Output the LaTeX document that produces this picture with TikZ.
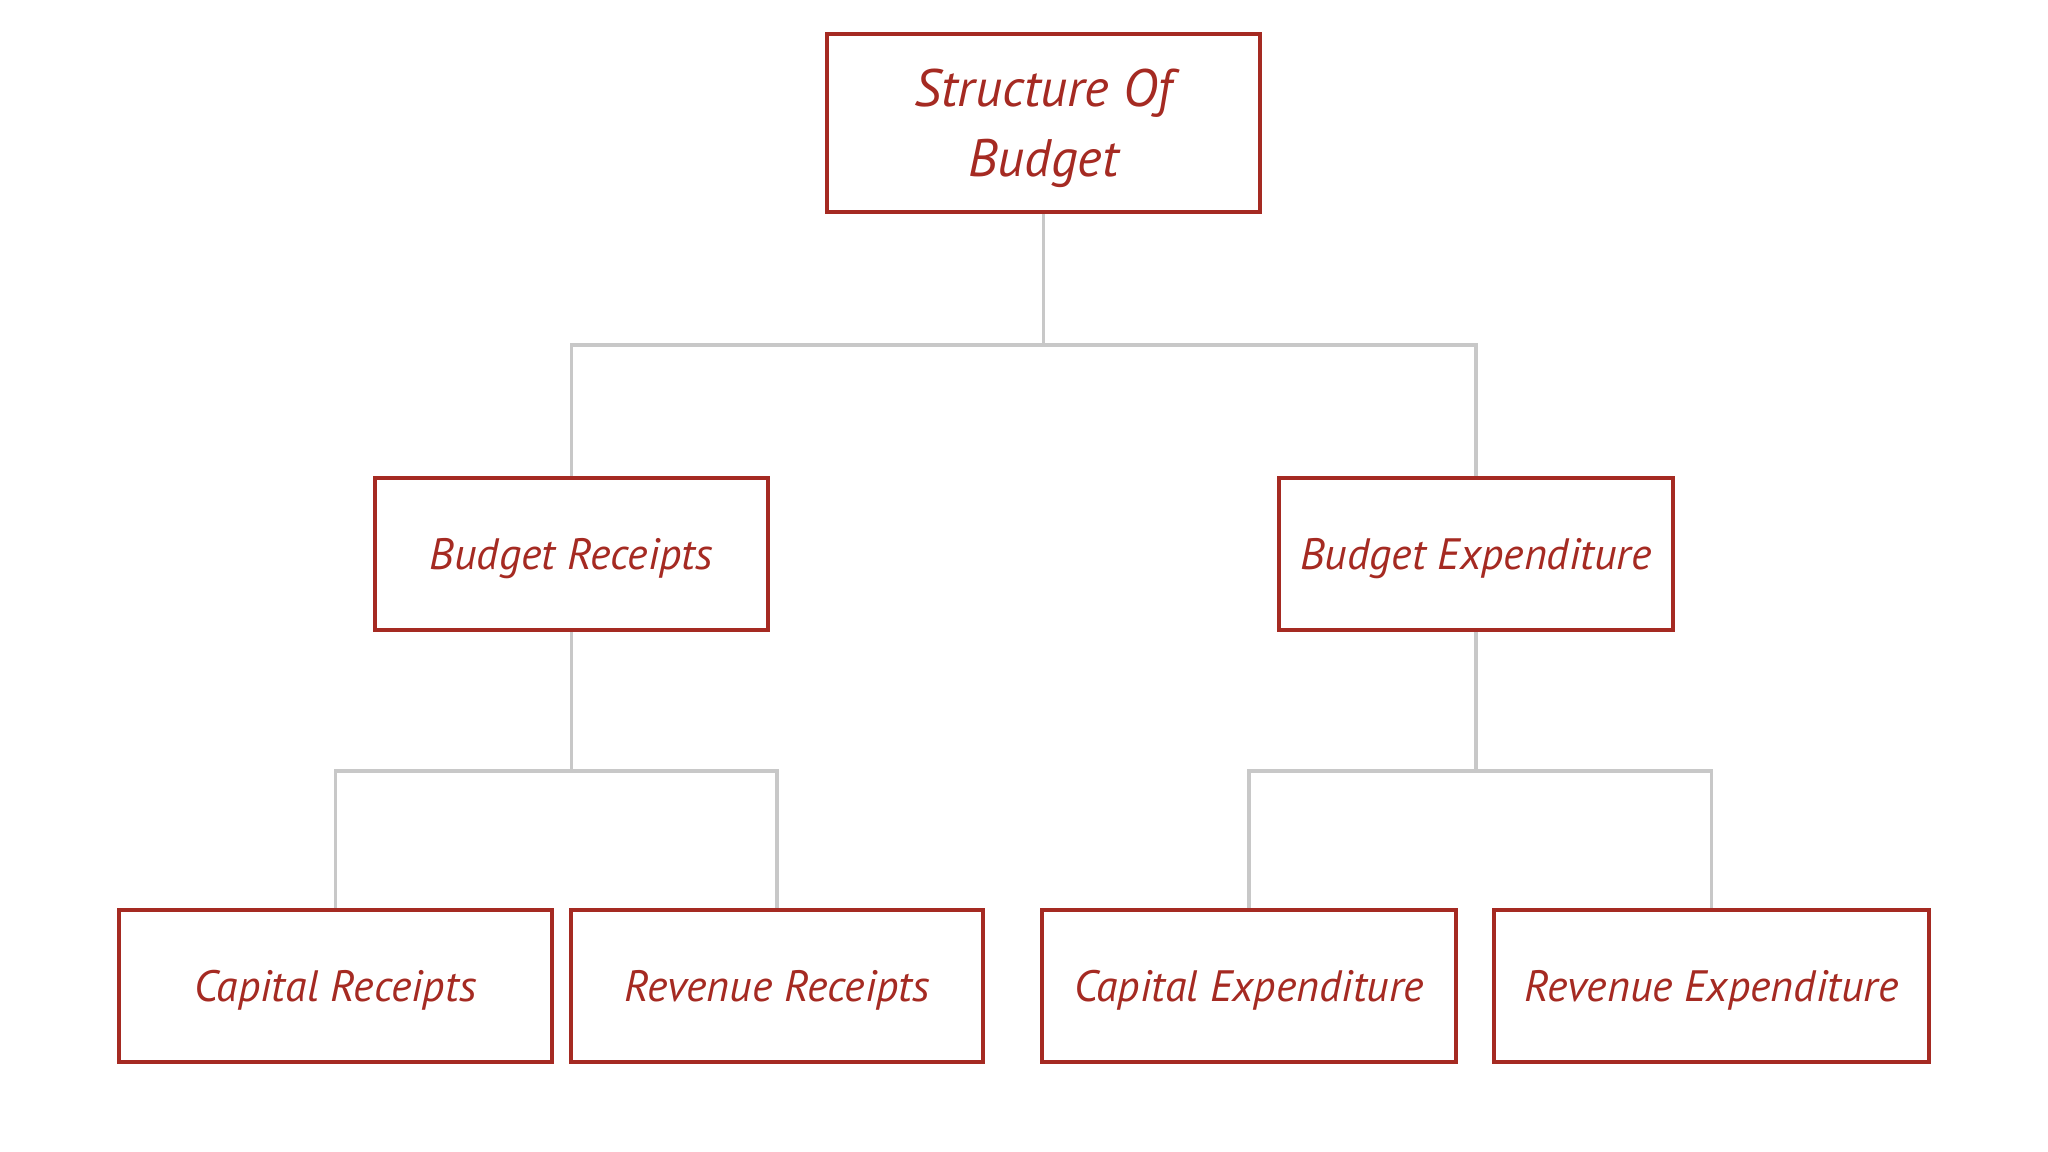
\documentclass[tikz,border=0pt]{standalone}
\usepackage{fontspec}
\setmainfont{PT Sans}
\tikzset{>=latex}
\definecolor{budgetred}{HTML}{A52A22}
\definecolor{linkgray}{HTML}{C8C8C8}
\tikzstyle{box} = [draw=budgetred, fill=white, rectangle, line width=1.15pt, minimum height=152*0.1mm, text=budgetred, font=\itshape\fontsize{12.5}{19}\selectfont, align=center, text depth=0pt]
\tikzstyle{link} = [draw=linkgray, line width=0.9pt]

\begin{document}
\begin{tikzpicture}[x=0.1mm,y=-0.1mm]
\useasboundingbox (0,0) rectangle (2048,1152);

% Diagram nodes
\node[box, minimum width=433*0.1mm, minimum height=178*0.1mm, font=\itshape\fontsize{15}{20}\selectfont](top) at (1043.5,123) {Structure Of\\Budget};

\node[box, minimum width=393*0.1mm](rec) at (571.5,554) {Budget Receipts};
\node[box, minimum width=394*0.1mm](exp) at (1476,554) {Budget Expenditure};

\node[box, minimum width=433*0.1mm](caprec) at (335.5,986) {Capital Receipts};
\node[box, minimum width=412*0.1mm](revrec) at (777,986) {Revenue Receipts};
\node[box, minimum width=414*0.1mm](capexp) at (1249,986) {Capital Expenditure};
\node[box, minimum width=435*0.1mm](revexp) at (1711.5,986) {Revenue Expenditure};

% Junctions
\coordinate (j0) at (1043.5,345);
\coordinate (j1) at (571.5,771);
\coordinate (j2) at (1476,771);

% Draw connectors
\draw[link](top.south)--(j0)-|(rec.north);
\draw[link](j0)-|(exp.north);
\draw[link](rec.south)--(j1)-|(caprec.north);
\draw[link](j1)-|(revrec.north);
\draw[link](exp.south)--(j2)-|(capexp.north);
\draw[link](j2)-|(revexp.north);

\end{tikzpicture}
\end{document}
